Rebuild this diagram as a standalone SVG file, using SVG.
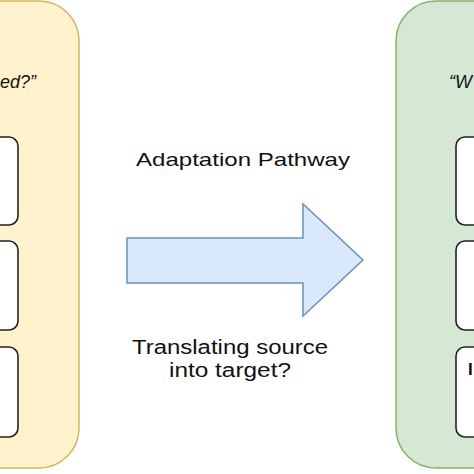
<svg xmlns="http://www.w3.org/2000/svg" width="474" height="474" viewBox="0 0 474 474">
<style>
.lbl{font-family:"Liberation Sans",Arial,sans-serif;fill:#111;}
.ital{font-family:"Liberation Sans",Arial,sans-serif;font-style:italic;fill:#111;font-size:18px;}
.inner{fill:#ffffff;stroke:#222;stroke-width:1.6;}
</style>
<rect width="474" height="474" fill="#ffffff"/>
<g id="source-panel">
<rect x="-80" y="1" width="159" height="467" rx="40" ry="40" fill="#fff2cc" stroke="#d6b656" stroke-width="1.5"/>
<text class="ital" x="36" y="88" text-anchor="end">ed?”</text>
</g>
<g id="source-box-1"><rect class="inner" x="-30" y="137" width="48" height="88" rx="9"/></g>
<g id="source-box-2"><rect class="inner" x="-30" y="241" width="48" height="89" rx="9"/></g>
<g id="source-box-3"><rect class="inner" x="-30" y="347" width="48" height="90" rx="9"/></g>
<g id="target-panel">
<rect x="396" y="1" width="160" height="467" rx="40" ry="40" fill="#d5e8d4" stroke="#82b366" stroke-width="1.5"/>
<text class="ital" x="449" y="88">“W</text>
</g>
<g id="target-box-1"><rect class="inner" x="456" y="137" width="48" height="88" rx="9"/></g>
<g id="target-box-2"><rect class="inner" x="456" y="241" width="48" height="89" rx="9"/></g>
<g id="target-box-3"><rect class="inner" x="456" y="347" width="48" height="90" rx="9"/>
<text class="lbl" x="468" y="375" font-size="17" font-weight="bold">I</text></g>
<g id="connectors">
<polygon id="adaptation-arrow" points="127,238 303,238 303,204 363,260 303,316 303,283 127,283" fill="#dae8fc" stroke="#6c8ebf" stroke-width="1.5" stroke-linejoin="miter"/>
</g>
<g id="labels">
<text class="lbl" x="136" y="166" font-size="19" textLength="214" lengthAdjust="spacingAndGlyphs">Adaptation Pathway</text>
<text class="lbl" x="132" y="354" font-size="20" textLength="196" lengthAdjust="spacingAndGlyphs">Translating source</text>
<text class="lbl" x="169" y="377" font-size="20" textLength="122" lengthAdjust="spacingAndGlyphs">into target?</text>
</g>
</svg>
